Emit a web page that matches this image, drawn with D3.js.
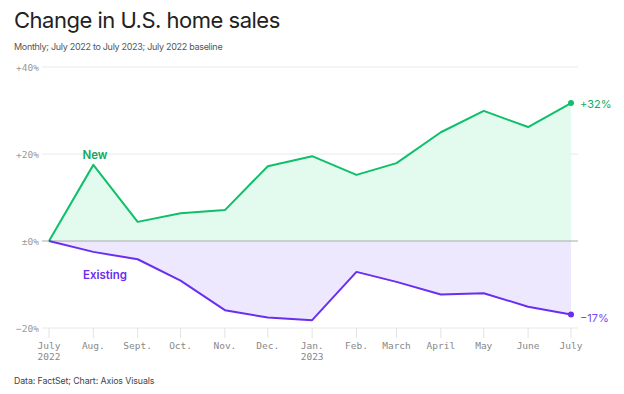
<!DOCTYPE html>
<html>
<head>
<meta charset="utf-8">
<script src="https://cdn.jsdelivr.net/npm/d3@7"></script>
<style>
  body { margin: 0; background: #fff; }
  svg text { font-family: "Inter", "Noto Sans", sans-serif; }
</style>
</head>
<body>
<div id="container"></div>
<script>
// data
const months = ["2022-07", "2022-08", "2022-09", "2022-10", "2022-11", "2022-12",
  "2023-01", "2023-02", "2023-03", "2023-04", "2023-05", "2023-06", "2023-07"];
const monthLabels = ["July", "Aug.", "Sept.", "Oct.", "Nov.", "Dec.",
  "Jan.", "Feb.", "March", "April", "May", "June", "July"];
const yearLabels = ["2022", "", "", "", "", "", "2023", "", "", "", "", "", ""];
const newSales = [0, 17.5, 4.4, 6.4, 7.1, 17.2, 19.5, 15.2, 17.9, 25.0, 29.9, 26.2, 31.7];
const existingSales = [0, -2.5, -4.2, -9.1, -15.9, -17.6, -18.2, -7.1, -9.4, -12.3, -12.0, -15.1, -16.9];
const yTicks = [40, 20, 0, -20];
const yTickLabels = ["+40%", "+20%", "±0%", "\u221220%"];

const width = 624;
const height = 394;

const svg = d3.select("#container").append("svg")
  .attr("width", width)
  .attr("height", height);

const parse = d3.timeParse("%Y-%m");
const dates = months.map(parse);

const xScale = d3.scaleTime()
  .domain(d3.extent(dates))
  .range([49, 571]);

const yScale = d3.scaleLinear()
  .domain([-20, 40])
  .range([328, 67]);

// title
svg.append("text")
  .attr("x", 14).attr("y", 28)
  .attr("font-size", 22)
  .attr("fill", "#222")
  .attr("letter-spacing", -0.5)
  .text("Change in U.S. home sales");

svg.append("text")
  .attr("x", 14).attr("y", 50)
  .attr("font-size", 9)
  .attr("fill", "#555")
  .attr("letter-spacing", -0.3)
  .text("Monthly; July 2022 to July 2023; July 2022 baseline");

// gridlines
svg.append("g").selectAll("line")
  .data(yTicks.filter(d => d !== 0))
  .enter().append("line")
  .attr("x1", 42).attr("x2", 578)
  .attr("y1", d => yScale(d)).attr("y2", d => yScale(d))
  .attr("stroke", "#e8e8e8")
  .attr("stroke-width", 1);

// y tick labels
svg.append("g").selectAll("text")
  .data(yTicks)
  .enter().append("text")
  .attr("x", 39)
  .attr("y", d => yScale(d) + 3.5)
  .attr("text-anchor", "end")
  .attr("font-size", 9.5)
  .attr("fill", "#999")
  .style("font-family", "'DejaVu Sans Mono', monospace")
  .text((d, i) => yTickLabels[i]);

// areas
const areaNew = d3.area()
  .x((d, i) => xScale(dates[i]))
  .y0(yScale(0))
  .y1(d => yScale(d));

svg.append("path")
  .datum(newSales)
  .attr("d", areaNew)
  .attr("fill", "#e0f9ec")
  .attr("fill-opacity", 0.9);

svg.append("path")
  .datum(existingSales)
  .attr("d", areaNew)
  .attr("fill", "#ebe5fd")
  .attr("fill-opacity", 0.9);

// x axis ticks
svg.append("g").selectAll("line")
  .data(dates)
  .enter().append("line")
  .attr("x1", d => xScale(d)).attr("x2", d => xScale(d))
  .attr("y1", 328).attr("y2", 338)
  .attr("stroke", "#e3e3e3");

const xLabels = svg.append("g").selectAll("text")
  .data(dates)
  .enter().append("text")
  .attr("x", d => xScale(d))
  .attr("text-anchor", "middle")
  .attr("font-size", 9.5)
  .attr("fill", "#888")
  .style("font-family", "'DejaVu Sans Mono', monospace");
xLabels.append("tspan")
  .attr("x", d => xScale(d)).attr("y", 349)
  .text((d, i) => monthLabels[i]);
xLabels.append("tspan")
  .attr("x", d => xScale(d)).attr("y", 360)
  .text((d, i) => yearLabels[i]);

// zero line
svg.append("line")
  .attr("x1", 42).attr("x2", 578)
  .attr("y1", yScale(0)).attr("y2", yScale(0))
  .attr("stroke", "#aaa")
  .attr("stroke-width", 1);

// lines
const line = d3.line()
  .x((d, i) => xScale(dates[i]))
  .y(d => yScale(d));

svg.append("path")
  .datum(newSales)
  .attr("d", line)
  .attr("fill", "none")
  .attr("stroke", "#0fbf6a")
  .attr("stroke-width", 2)
  .attr("stroke-linejoin", "round");

svg.append("path")
  .datum(existingSales)
  .attr("d", line)
  .attr("fill", "none")
  .attr("stroke", "#6a2ef0")
  .attr("stroke-width", 2)
  .attr("stroke-linejoin", "round");

// end dots + labels
const last = dates.length - 1;
svg.append("circle")
  .attr("cx", xScale(dates[last])).attr("cy", yScale(newSales[last]))
  .attr("r", 3).attr("fill", "#0fbf6a");
svg.append("circle")
  .attr("cx", xScale(dates[last])).attr("cy", yScale(existingSales[last]))
  .attr("r", 3).attr("fill", "#6a2ef0");

svg.append("text")
  .attr("x", 580).attr("y", yScale(newSales[last]) + 5)
  .attr("font-size", 11)
  .attr("fill", "#11a860")
  .text("+" + Math.round(newSales[last]) + "%");

svg.append("text")
  .attr("x", 580).attr("y", yScale(existingSales[last]) + 7)
  .attr("font-size", 11)
  .attr("fill", "#7a46f5")
  .text("\u2212" + Math.abs(Math.round(existingSales[last])) + "%");

// series labels
svg.append("text")
  .attr("x", 95).attr("y", 159)
  .attr("text-anchor", "middle")
  .attr("font-size", 11.5)
  .attr("font-weight", 600)
  .attr("fill", "#11a860")
  .text("New");

svg.append("text")
  .attr("x", 105).attr("y", 279)
  .attr("text-anchor", "middle")
  .attr("font-size", 11.5)
  .attr("font-weight", 600)
  .attr("fill", "#6a2ef0")
  .text("Existing");

// source
svg.append("text")
  .attr("x", 14).attr("y", 384)
  .attr("font-size", 8.8)
  .attr("fill", "#444")
  .attr("letter-spacing", -0.1)
  .text("Data: FactSet; Chart: Axios Visuals");
</script>
</body>
</html>
